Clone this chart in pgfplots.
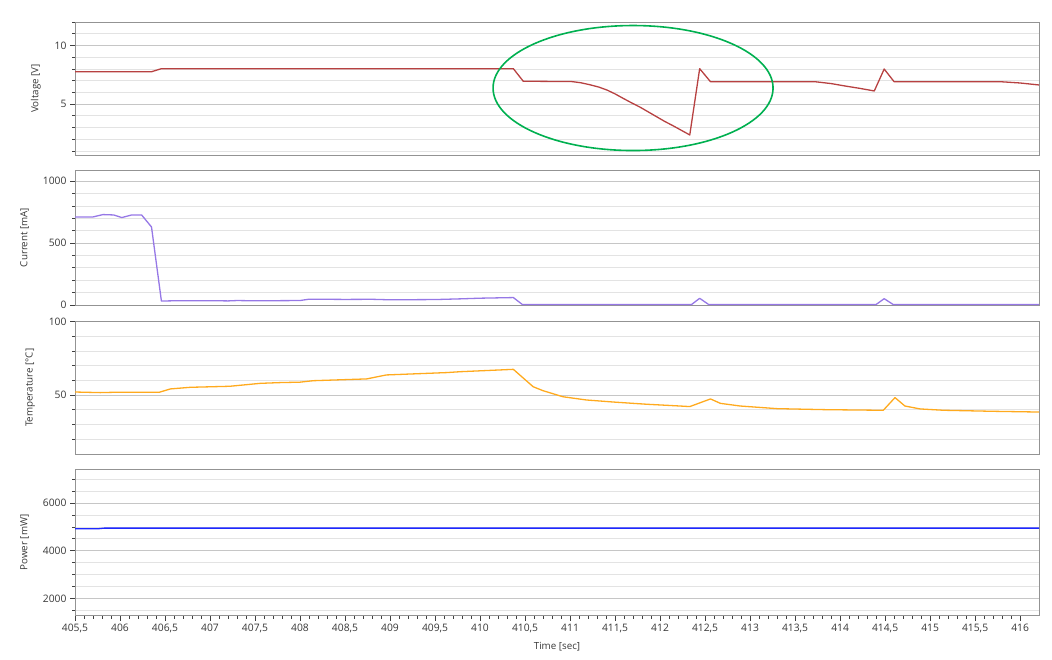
\documentclass[border=0pt]{standalone}
\usepackage{pgfplots}
\pgfplotsset{compat=1.18}
\usepackage{fontspec}
\setmainfont{Open Sans}
\definecolor{vcol}{RGB}{183,65,65}
\definecolor{icol}{RGB}{150,120,230}
\definecolor{tcol}{RGB}{255,170,30}
\definecolor{pcol}{RGB}{30,40,255}
\definecolor{ecol}{RGB}{0,176,80}
\definecolor{txt}{RGB}{55,55,55}

\pgfplotsset{panel/.style={
  width=964pt, scale only axis,
  xmin=405.5, xmax=416.21,
  axis line style={draw=gray!85, line width=0.9pt},
  tick align=outside, tick pos=left,
  major tick length=5pt, minor tick length=3pt,
  every tick/.style={black!75, line width=0.7pt},
  ymajorgrids, yminorgrids,
  major grid style={gray!45, line width=0.8pt},
  minor grid style={gray!22, line width=0.8pt},
  tick label style={font=\fontsize{10.3}{12}\selectfont, text=txt},
  label style={font=\fontsize{9.8}{11}\selectfont, text=txt},
  ylabel style={yshift=7pt},
  /pgf/number format/assume math mode=true,
  /pgf/number format/1000 sep={},
  every axis plot/.append style={line width=1.3pt, no markers, line join=round},
}}

\begin{document}
\begin{tikzpicture}
\path[use as bounding box] (0,0) rectangle (1052pt,-660pt);

% Voltage
\begin{axis}[panel, at={(75pt,-22pt)}, anchor=north west, height=133pt,
  ymin=0.66, ymax=12, ytick={5,10}, minor ytick={1,2,3,4,6,7,8,9,11,12},
  xtick=\empty, ylabel={Voltage [V]}, clip=false]
\addplot[vcol] coordinates {
(405.5,7.76) (406.35,7.76) (406.46,8.02) (410.37,8.02) (410.48,6.95)
(411.02,6.92) (411.12,6.82) (411.22,6.65) (411.32,6.45) (411.41,6.20)
(411.50,5.87) (411.59,5.49) (411.68,5.12) (411.78,4.73) (411.87,4.33)
(411.96,3.93) (412.05,3.53) (412.15,3.13) (412.24,2.75) (412.33,2.37)
(412.44,8.02) (412.56,6.91)
(413.72,6.91) (413.9,6.75) (414.05,6.55) (414.22,6.34) (414.38,6.12) (414.49,7.99) (414.60,6.91)
(415.78,6.91) (416.0,6.8) (416.21,6.63)};
\draw[ecol, line width=1.6pt] (axis cs:411.7,6.37) ellipse [x radius=140pt, y radius=62.5pt];
\end{axis}

% Current
\begin{axis}[panel, at={(75pt,-170pt)}, anchor=north west, height=135pt,
  ymin=0, ymax=1090, ytick={0,500,1000}, minor ytick={100,200,300,400,600,700,800,900},
  xtick=\empty, ylabel={Current [mA]}]
\addplot[icol] coordinates {
(405.5,711) (405.7,711) (405.81,730) (405.93,727) (406.02,706) (406.13,727)
(406.24,727) (406.35,630) (406.46,32) (406.6,34) (407.0,35) (407.2,33)
(407.3,36) (407.5,34) (408.0,36) (408.1,47) (408.5,45) (408.8,46) (409.0,42)
(409.5,44) (409.8,50) (410.0,55) (410.37,60) (410.47,4) (412.35,4) (412.44,54)
(412.54,4) (414.4,4) (414.49,51) (414.59,4) (416.21,4)};
\end{axis}

% Temperature
\begin{axis}[panel, at={(75pt,-321.5pt)}, anchor=north west, height=132.5pt,
  ymin=10, ymax=100, ytick={50,100}, minor ytick={20,30,40,60,70,80,90},
  xtick=\empty, ylabel={Temperature [°C]}]
\addplot[tcol] coordinates {
(405.5,52.1) (405.78,51.7) (406.0,52) (406.44,52) (406.56,54.2) (406.78,55.3)
(407.22,56) (407.56,58) (407.78,58.5) (408.0,58.8) (408.15,59.8) (408.74,61)
(408.96,63.7) (409.63,65.3) (409.78,65.9) (410.37,67.5) (410.59,55.7)
(410.7,53) (410.92,48.9) (411.18,46.7) (411.48,45.3) (411.85,43.8)
(412.22,42.6) (412.33,42.2) (412.56,47.4) (412.67,44.4) (412.89,42.6)
(413.3,40.8) (413.85,40.1) (414.48,39.7) (414.61,48.3) (414.72,42.6)
(414.89,40.6) (415.15,39.7) (415.7,39) (416.21,38.5)};
\end{axis}

% Power
\begin{axis}[panel, at={(75pt,-469.3pt)}, anchor=north west, height=146.4pt,
  ymin=1270, ymax=7420, ytick={2000,4000,6000},
  minor ytick={1500,2500,3000,3500,4500,5000,5500,6500,7000},
  xtick distance=0.5, minor x tick num=4,
  xticklabel style={/pgf/number format/.cd, fixed, precision=1, use comma, 1000 sep={}},
  xlabel style={yshift=-2pt},
  ylabel={Power [mW]}, xlabel={Time [sec]}]
\addplot[pcol] coordinates {(405.5,4920) (405.75,4920) (405.83,4950) (416.21,4950)};
\end{axis}
\end{tikzpicture}
\end{document}
